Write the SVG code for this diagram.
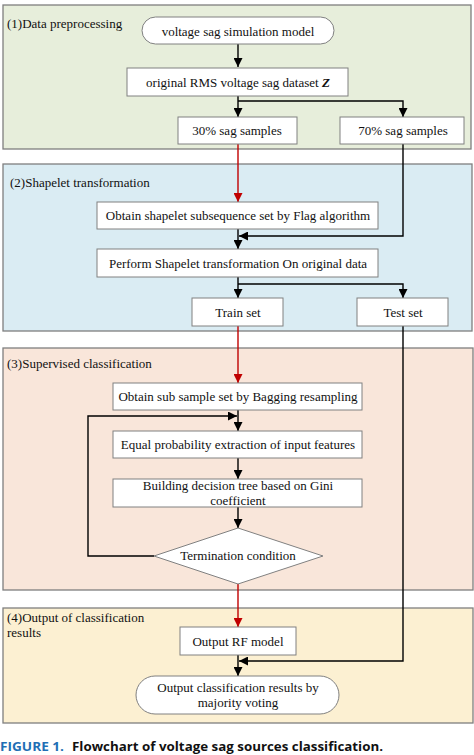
<svg xmlns="http://www.w3.org/2000/svg" width="474" height="755" viewBox="0 0 474 755">
<defs>
<marker id="ab" viewBox="0 0 10 10" refX="10" refY="5" markerWidth="9" markerHeight="9" markerUnits="userSpaceOnUse" orient="auto"><path d="M0,0 L10,5 L0,10 z" fill="#000"/></marker>
<marker id="ar" viewBox="0 0 10 10" refX="10" refY="5" markerWidth="9" markerHeight="9" markerUnits="userSpaceOnUse" orient="auto"><path d="M0,0 L10,5 L0,10 z" fill="#c00000"/></marker>
<style>
.panel{stroke:#7f7f7f;stroke-width:1.3}
.box{fill:#fff;stroke:#808080;stroke-width:1}
.t{font-family:"Liberation Serif","Times New Roman",serif;font-size:13px;fill:#111}
.c{text-anchor:middle}
.lk{fill:none;stroke:#000;stroke-width:1.4}
.lr{fill:none;stroke:#c00000;stroke-width:1.4}
</style>
</defs>
<rect width="474" height="755" fill="#fff"/>
<g id="panels">
<rect id="panel1" class="panel" x="3" y="5" width="468" height="144" fill="#e7eedb"/>
<rect id="panel2" class="panel" x="3" y="164" width="469" height="167" fill="#daecf3"/>
<rect id="panel3" class="panel" x="3" y="348" width="470" height="242" fill="#f9e6da"/>
<rect id="panel4" class="panel" x="3" y="608" width="470" height="115" fill="#fcf0d2"/>
<text class="t" x="7" y="28">(1)Data preprocessing</text>
<text class="t" x="10" y="187">(2)Shapelet transformation</text>
<text class="t" x="7" y="368">(3)Supervised classification</text>
<text class="t" x="7" y="622">(4)Output of classification</text>
<text class="t" x="7" y="637">results</text>
</g>
<g id="connectors">
<path class="lk" d="M238,44 V67" marker-end="url(#ab)"/>
<path class="lk" d="M238,96 V117" marker-end="url(#ab)"/>
<path class="lk" d="M238,101 H403 V117" marker-end="url(#ab)"/>
<path class="lr" d="M238,144 V202" marker-end="url(#ar)"/>
<path class="lk" d="M403,144 V236 H239" marker-end="url(#ab)"/>
<path class="lk" d="M238,229 V249" marker-end="url(#ab)"/>
<path class="lk" d="M238,277 V298" marker-end="url(#ab)"/>
<path class="lk" d="M238,284 H403 V298" marker-end="url(#ab)"/>
<path class="lr" d="M238,326 V383" marker-end="url(#ar)"/>
<path class="lk" d="M238,410 V431" marker-end="url(#ab)"/>
<path class="lk" d="M154,556 H88 V416 H237" marker-end="url(#ab)"/>
<path class="lk" d="M238,458 V479" marker-end="url(#ab)"/>
<path class="lk" d="M238,507 V528" marker-end="url(#ab)"/>
<path class="lr" d="M238,584 V627" marker-end="url(#ar)"/>
<path class="lk" d="M403,326 V661 H239" marker-end="url(#ab)"/>
<path class="lk" d="M238,655 V676" marker-end="url(#ab)"/>
</g>
<g id="n-sim">
<rect class="box" x="142" y="17" width="192" height="27" rx="13.5"/>
<text class="t c" x="238" y="36">voltage sag simulation model</text>
</g>
<g id="n-rms">
<rect class="box" x="127" y="68" width="221" height="28"/>
<text class="t c" x="238" y="87">original RMS voltage sag dataset <tspan font-weight="bold" font-style="italic">Z</tspan></text>
</g>
<g id="n-30">
<rect class="box" x="178" y="117" width="119" height="27"/>
<text class="t c" x="237" y="135">30% sag samples</text>
</g>
<g id="n-70">
<rect class="box" x="340" y="117" width="124" height="27"/>
<text class="t c" x="403" y="135">70% sag samples</text>
</g>
<g id="n-flag">
<rect class="box" x="97" y="202" width="281" height="27"/>
<text class="t c" x="238" y="220">Obtain shapelet subsequence set by Flag algorithm</text>
</g>
<g id="n-perform">
<rect class="box" x="97" y="249" width="281" height="28"/>
<text class="t c" x="238" y="268">Perform Shapelet transformation On original data</text>
</g>
<g id="n-train">
<rect class="box" x="192" y="298" width="91" height="28"/>
<text class="t c" x="238" y="317">Train set</text>
</g>
<g id="n-test">
<rect class="box" x="357" y="298" width="91" height="28"/>
<text class="t c" x="403" y="317">Test set</text>
</g>
<g id="n-bagging">
<rect class="box" x="113" y="383" width="249" height="27"/>
<text class="t c" x="238" y="401">Obtain sub sample set by Bagging resampling</text>
</g>
<g id="n-equal">
<rect class="box" x="113" y="431" width="249" height="27"/>
<text class="t c" x="238" y="449">Equal probability extraction of input features</text>
</g>
<g id="n-gini">
<rect class="box" x="113" y="479" width="249" height="28"/>
<text class="t c" x="238" y="490">Building decision tree based on Gini</text>
<text class="t c" x="238" y="505">coefficient</text>
</g>
<g id="n-term">
<polygon class="box" points="238,528 323,556 238,584 154,556"/>
<text class="t c" x="238" y="560">Termination condition</text>
</g>
<g id="n-rf">
<rect class="box" x="180" y="627" width="116" height="28"/>
<text class="t c" x="238" y="646">Output RF model</text>
</g>
<g id="n-vote">
<rect class="box" x="136" y="676" width="203" height="38" rx="19"/>
<text class="t c" x="238" y="692">Output classification results by</text>
<text class="t c" x="238" y="707">majority voting</text>
</g>
<g id="caption" font-family="'Open Sans','Liberation Sans',sans-serif" font-weight="bold" font-size="13">
<text x="0" y="751" fill="#1f6fb5" textLength="64" lengthAdjust="spacingAndGlyphs">FIGURE 1.</text>
<text x="72" y="751" fill="#111" textLength="311" lengthAdjust="spacingAndGlyphs">Flowchart of voltage sag sources classification.</text>
</g>
</svg>
